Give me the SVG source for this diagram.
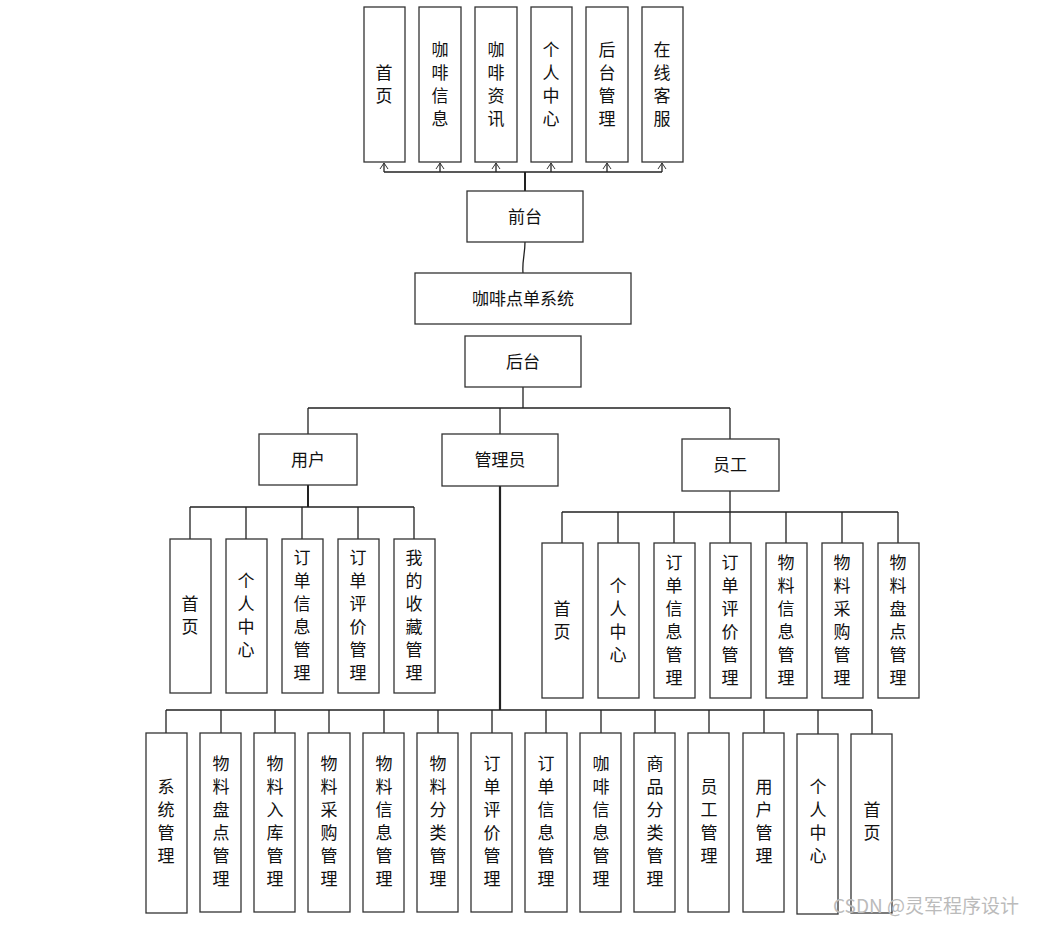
<svg xmlns="http://www.w3.org/2000/svg" width="1039" height="925" viewBox="0 0 1039 925">
<style>
rect{fill:#fff;stroke:#333;stroke-width:1.3}
text{font-family:"Noto Sans CJK SC","Liberation Serif",serif;font-size:17px;fill:#111;text-anchor:middle}
.c line,.c path{stroke:#222;stroke-width:1.3;fill:none}
.wm{font-family:"Noto Sans CJK SC",sans-serif;font-size:19px;fill:#bbb;text-anchor:start}
</style>
<defs><marker id="a" markerWidth="10" markerHeight="10" refX="8" refY="5" orient="auto" markerUnits="userSpaceOnUse"><path d="M2,1 L8,5 L2,9" fill="none" stroke="#333" stroke-width="1"/></marker></defs>
<rect x="0" y="0" width="1039" height="925" style="fill:#fff;stroke:none"/>
<g class="c">
<line x1="525" y1="191" x2="525" y2="172" style="stroke-width:2"/>
<line x1="384" y1="172" x2="662" y2="172"/>
<line x1="384" y1="172" x2="384" y2="163" marker-end="url(#a)"/>
<line x1="440" y1="172" x2="440" y2="163" marker-end="url(#a)"/>
<line x1="496" y1="172" x2="496" y2="163" marker-end="url(#a)"/>
<line x1="551" y1="172" x2="551" y2="163" marker-end="url(#a)"/>
<line x1="607" y1="172" x2="607" y2="163" marker-end="url(#a)"/>
<line x1="662" y1="172" x2="662" y2="163" marker-end="url(#a)"/>
<path d="M525,242 C525,255 522,260 523,273"/>
<path d="M523,387 V408 M308,408 H730 M308,408 V434 M500,408 V434 M730,408 V439"/>
<path d="M308,485 V507" style="stroke-width:2"/>
<path d="M190,507 H414 M190,507 V539 M246,507 V539 M302,507 V539 M358,507 V539 M414,507 V539"/>
<path d="M730,491 V512 M562,512 H898 M562,512 V543 M618,512 V543 M674,512 V543 M730,512 V543 M786,512 V543 M842,512 V543 M898,512 V543"/>
<path d="M500,486 V710" style="stroke-width:2.2"/>
<path d="M166,710 H872 M166,710 V733 M221,710 V733 M275,710 V733 M329,710 V733 M384,710 V733 M438,710 V733 M492,710 V733 M546,710 V733 M601,710 V733 M655,710 V733 M709,710 V733 M764,710 V733 M818,710 V736 M872,710 V736"/>
</g>
<g id="top">
<g id="t1"><rect x="364" y="7" width="41" height="155"/><text x="384" y="79">首<tspan x="384" dy="23">页</tspan></text></g>
<g id="t2"><rect x="419" y="7" width="42" height="155"/><text x="440" y="56">咖<tspan x="440" dy="23">啡</tspan><tspan x="440" dy="23">信</tspan><tspan x="440" dy="23">息</tspan></text></g>
<g id="t3"><rect x="475" y="7" width="42" height="155"/><text x="496" y="56">咖<tspan x="496" dy="23">啡</tspan><tspan x="496" dy="23">资</tspan><tspan x="496" dy="23">讯</tspan></text></g>
<g id="t4"><rect x="531" y="7" width="41" height="155"/><text x="551" y="56">个<tspan x="551" dy="23">人</tspan><tspan x="551" dy="23">中</tspan><tspan x="551" dy="23">心</tspan></text></g>
<g id="t5"><rect x="586" y="7" width="42" height="155"/><text x="607" y="56">后<tspan x="607" dy="23">台</tspan><tspan x="607" dy="23">管</tspan><tspan x="607" dy="23">理</tspan></text></g>
<g id="t6"><rect x="642" y="7" width="41" height="155"/><text x="662" y="56">在<tspan x="662" dy="23">线</tspan><tspan x="662" dy="23">客</tspan><tspan x="662" dy="23">服</tspan></text></g>
</g>
<g id="qiantai"><rect x="467" y="191" width="116" height="51"/><text x="525" y="223">前台</text></g>
<g id="sys"><rect x="415" y="273" width="216" height="51"/><text x="523" y="305">咖啡点单系统</text></g>
<g id="houtai"><rect x="465" y="336" width="116" height="51"/><text x="523" y="368">后台</text></g>
<g id="yonghu"><rect x="259" y="434" width="98" height="51"/><text x="308" y="466">用户</text></g>
<g id="admin"><rect x="442" y="434" width="116" height="52"/><text x="500" y="466">管理员</text></g>
<g id="staff"><rect x="682" y="439" width="97" height="52"/><text x="730" y="471">员工</text></g>
<g id="user-children">
<g id="u1"><rect x="170" y="539" width="41" height="154"/><text x="190" y="610">首<tspan x="190" dy="23">页</tspan></text></g>
<g id="u2"><rect x="226" y="539" width="41" height="154"/><text x="246" y="587">个<tspan x="246" dy="23">人</tspan><tspan x="246" dy="23">中</tspan><tspan x="246" dy="23">心</tspan></text></g>
<g id="u3"><rect x="282" y="539" width="41" height="154"/><text x="302" y="564">订<tspan x="302" dy="23">单</tspan><tspan x="302" dy="23">信</tspan><tspan x="302" dy="23">息</tspan><tspan x="302" dy="23">管</tspan><tspan x="302" dy="23">理</tspan></text></g>
<g id="u4"><rect x="338" y="539" width="41" height="154"/><text x="358" y="564">订<tspan x="358" dy="23">单</tspan><tspan x="358" dy="23">评</tspan><tspan x="358" dy="23">价</tspan><tspan x="358" dy="23">管</tspan><tspan x="358" dy="23">理</tspan></text></g>
<g id="u5"><rect x="394" y="539" width="41" height="154"/><text x="414" y="564">我<tspan x="414" dy="23">的</tspan><tspan x="414" dy="23">收</tspan><tspan x="414" dy="23">藏</tspan><tspan x="414" dy="23">管</tspan><tspan x="414" dy="23">理</tspan></text></g>
</g>
<g id="staff-children">
<g id="s1"><rect x="542" y="543" width="41" height="155"/><text x="562" y="615">首<tspan x="562" dy="23">页</tspan></text></g>
<g id="s2"><rect x="598" y="543" width="41" height="155"/><text x="618" y="592">个<tspan x="618" dy="23">人</tspan><tspan x="618" dy="23">中</tspan><tspan x="618" dy="23">心</tspan></text></g>
<g id="s3"><rect x="654" y="543" width="41" height="155"/><text x="674" y="569">订<tspan x="674" dy="23">单</tspan><tspan x="674" dy="23">信</tspan><tspan x="674" dy="23">息</tspan><tspan x="674" dy="23">管</tspan><tspan x="674" dy="23">理</tspan></text></g>
<g id="s4"><rect x="710" y="543" width="41" height="155"/><text x="730" y="569">订<tspan x="730" dy="23">单</tspan><tspan x="730" dy="23">评</tspan><tspan x="730" dy="23">价</tspan><tspan x="730" dy="23">管</tspan><tspan x="730" dy="23">理</tspan></text></g>
<g id="s5"><rect x="766" y="543" width="41" height="155"/><text x="786" y="569">物<tspan x="786" dy="23">料</tspan><tspan x="786" dy="23">信</tspan><tspan x="786" dy="23">息</tspan><tspan x="786" dy="23">管</tspan><tspan x="786" dy="23">理</tspan></text></g>
<g id="s6"><rect x="822" y="543" width="41" height="155"/><text x="842" y="569">物<tspan x="842" dy="23">料</tspan><tspan x="842" dy="23">采</tspan><tspan x="842" dy="23">购</tspan><tspan x="842" dy="23">管</tspan><tspan x="842" dy="23">理</tspan></text></g>
<g id="s7"><rect x="878" y="543" width="41" height="155"/><text x="898" y="569">物<tspan x="898" dy="23">料</tspan><tspan x="898" dy="23">盘</tspan><tspan x="898" dy="23">点</tspan><tspan x="898" dy="23">管</tspan><tspan x="898" dy="23">理</tspan></text></g>
</g>
<g id="admin-children">
<g id="a1"><rect x="146" y="733" width="41" height="180"/><text x="166" y="793">系<tspan x="166" dy="23">统</tspan><tspan x="166" dy="23">管</tspan><tspan x="166" dy="23">理</tspan></text></g>
<g id="a2"><rect x="200" y="733" width="41" height="179"/><text x="221" y="770">物<tspan x="221" dy="23">料</tspan><tspan x="221" dy="23">盘</tspan><tspan x="221" dy="23">点</tspan><tspan x="221" dy="23">管</tspan><tspan x="221" dy="23">理</tspan></text></g>
<g id="a3"><rect x="254" y="733" width="41" height="179"/><text x="275" y="770">物<tspan x="275" dy="23">料</tspan><tspan x="275" dy="23">入</tspan><tspan x="275" dy="23">库</tspan><tspan x="275" dy="23">管</tspan><tspan x="275" dy="23">理</tspan></text></g>
<g id="a4"><rect x="308" y="733" width="42" height="179"/><text x="329" y="770">物<tspan x="329" dy="23">料</tspan><tspan x="329" dy="23">采</tspan><tspan x="329" dy="23">购</tspan><tspan x="329" dy="23">管</tspan><tspan x="329" dy="23">理</tspan></text></g>
<g id="a5"><rect x="363" y="733" width="41" height="179"/><text x="384" y="770">物<tspan x="384" dy="23">料</tspan><tspan x="384" dy="23">信</tspan><tspan x="384" dy="23">息</tspan><tspan x="384" dy="23">管</tspan><tspan x="384" dy="23">理</tspan></text></g>
<g id="a6"><rect x="417" y="733" width="41" height="179"/><text x="438" y="770">物<tspan x="438" dy="23">料</tspan><tspan x="438" dy="23">分</tspan><tspan x="438" dy="23">类</tspan><tspan x="438" dy="23">管</tspan><tspan x="438" dy="23">理</tspan></text></g>
<g id="a7"><rect x="471" y="733" width="41" height="179"/><text x="492" y="770">订<tspan x="492" dy="23">单</tspan><tspan x="492" dy="23">评</tspan><tspan x="492" dy="23">价</tspan><tspan x="492" dy="23">管</tspan><tspan x="492" dy="23">理</tspan></text></g>
<g id="a8"><rect x="525" y="733" width="42" height="179"/><text x="546" y="770">订<tspan x="546" dy="23">单</tspan><tspan x="546" dy="23">信</tspan><tspan x="546" dy="23">息</tspan><tspan x="546" dy="23">管</tspan><tspan x="546" dy="23">理</tspan></text></g>
<g id="a9"><rect x="580" y="733" width="41" height="179"/><text x="601" y="770">咖<tspan x="601" dy="23">啡</tspan><tspan x="601" dy="23">信</tspan><tspan x="601" dy="23">息</tspan><tspan x="601" dy="23">管</tspan><tspan x="601" dy="23">理</tspan></text></g>
<g id="a10"><rect x="634" y="733" width="41" height="179"/><text x="655" y="770">商<tspan x="655" dy="23">品</tspan><tspan x="655" dy="23">分</tspan><tspan x="655" dy="23">类</tspan><tspan x="655" dy="23">管</tspan><tspan x="655" dy="23">理</tspan></text></g>
<g id="a11"><rect x="688" y="733" width="41" height="179"/><text x="709" y="793">员<tspan x="709" dy="23">工</tspan><tspan x="709" dy="23">管</tspan><tspan x="709" dy="23">理</tspan></text></g>
<g id="a12"><rect x="743" y="733" width="41" height="179"/><text x="764" y="793">用<tspan x="764" dy="23">户</tspan><tspan x="764" dy="23">管</tspan><tspan x="764" dy="23">理</tspan></text></g>
<g id="a13"><rect x="797" y="734" width="41" height="180"/><text x="818" y="793">个<tspan x="818" dy="23">人</tspan><tspan x="818" dy="23">中</tspan><tspan x="818" dy="23">心</tspan></text></g>
<g id="a14"><rect x="851" y="734" width="41" height="179"/><text x="872" y="816">首<tspan x="872" dy="23">页</tspan></text></g>
</g>
<text class="wm" x="833" y="913">CSDN @灵军程序设计</text>
</svg>
